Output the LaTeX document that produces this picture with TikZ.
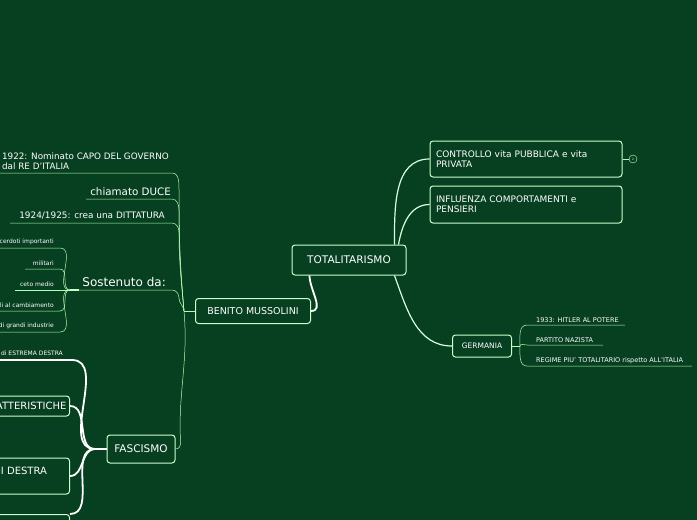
\documentclass[tikz,border=0pt]{standalone}
\usepackage{fontspec}
\setmainfont{DejaVu Sans}
\begin{document}
\begin{tikzpicture}[x=1pt,y=-1pt,
  box/.style={draw=white!80!green, rounded corners=3pt, line width=1pt, text=white, font=\fontsize{9}{10}\selectfont, inner sep=3pt},
  lab/.style={text=white, font=\fontsize{6.5}{8}\selectfont, inner sep=1pt},
  thin/.style={draw=white!70!green, line width=0.5pt},
  thick/.style={draw=white, line width=1.8pt},
  mid/.style={draw=white!85!green, line width=1.2pt}]
\definecolor{bg}{HTML}{073F21}
\fill[bg] (0,0) rectangle (697,520);
\useasboundingbox (0,0) rectangle (697,520);
\clip (0,0) rectangle (697,520);
% main nodes
\node[box, minimum width=114pt, minimum height=30pt, font=\fontsize{10.5}{11}\selectfont] (tot) at (349,260) {TOTALITARISMO};
\node[box, minimum width=115pt, minimum height=25pt, font=\fontsize{9.5}{10}\selectfont] (mus) at (253,311) {BENITO MUSSOLINI};
\node[box, minimum width=68pt, minimum height=28pt, font=\fontsize{10.5}{11}\selectfont] (fas) at (141,449) {FASCISMO};
\node[box, minimum width=192pt, minimum height=36pt, align=left, text width=180pt] (con) at (526,159) {CONTROLLO vita PUBBLICA e vita\\PRIVATA};
\node[box, minimum width=192pt, minimum height=37pt, align=left, text width=180pt] (inf) at (526,204.5) {INFLUENZA COMPORTAMENTI e\\PENSIERI};
\node[box, minimum width=59pt, minimum height=22pt, font=\fontsize{7.5}{8}\selectfont] (ger) at (482,346) {GERMANIA};
\node[draw=white!80!green, circle, inner sep=0pt, minimum size=8pt, text=white, font=\fontsize{3}{3}\selectfont] (cnt) at (633,159) {2};
\draw[thin] (con.east) -- (cnt.west);
% totalitarismo connectors
\draw[thick] (tot.south west) ++(18,0) to[out=-90,in=0] (mus.east);
\draw[mid] (tot.north east) ++(-12,0) to[out=90,in=180] (con.west);
\draw[mid] (tot.north east) ++(-8,0) to[out=80,in=180] (inf.west);
\draw[mid] (tot.south east) ++(-12,0) to[out=-70,in=180] (ger.west);
% germania children
\coordinate (gj) at (520,346);
\draw[thin] (ger.east) -- (gj);
\node[lab, anchor=south west] (g1) at (535,324) {1933: HITLER AL POTERE};
\node[lab, anchor=south west] (g2) at (535,344) {PARTITO NAZISTA};
\node[lab, anchor=south west] (g3) at (535,365) {REGIME PIU' TOTALITARIO rispetto ALL'ITALIA};
\draw[thin] (gj) to[out=90,in=180] (527,325) -- (625,325);
\draw[thin] (gj) to[out=90,in=180] (527,345) -- (603,345);
\draw[thin] (gj) to[out=-90,in=180] (527,366) -- (692,366);
% mussolini children
\coordinate (mj) at (184,311);
\draw[thin] (mus.west) -- (mj);
\node[lab, anchor=south east, align=left, font=\fontsize{8.8}{10}\selectfont] (m1) at (170,171) {1922: Nominato CAPO DEL GOVERNO\\dal RE D'ITALIA};
\node[lab, anchor=south east, font=\fontsize{10.3}{11}\selectfont] (m2) at (172,197) {chiamato DUCE};
\node[lab, anchor=south east, font=\fontsize{8.9}{10}\selectfont] (m3) at (166,221) {1924/1925: crea una DITTATURA};
\node[lab, anchor=south east, font=\fontsize{12}{13}\selectfont] (m4) at (167,288) {Sostenuto da:};
\draw[thin] (mj) to[out=95,in=-90] (179,190) to[out=90,in=0] (172,173) -- (0,173);
\draw[thin] (mj) to[out=95,in=-90] (179,210) to[out=90,in=0] (172,199) -- (86,199);
\draw[thin] (mj) to[out=95,in=-90] (179,232) to[out=90,in=0] (172,223) -- (10,223);
\draw[thin] (mj) to[out=95,in=-90] (179,298) to[out=90,in=0] (172,290) -- (75,290);
\draw[thin] (mj) to[out=-85,in=90] (180,430) to[out=-90,in=0] (fas.east);
% sostenuto children
\coordinate (sj) at (70,290);
\draw[line width=1.2pt, white!80!green] (sj) -- (79,290);
\node[lab, anchor=south east, font=\fontsize{6}{7}\selectfont] (s1) at (55,246) {sacerdoti importanti};
\node[lab, anchor=south east, font=\fontsize{6}{7}\selectfont] (s2) at (55,267) {militari};
\node[lab, anchor=south east, font=\fontsize{6}{7}\selectfont] (s3) at (55,288) {ceto medio};
\node[lab, anchor=south east, font=\fontsize{6}{7}\selectfont] (s4) at (55,309) {favorevoli al cambiamento};
\node[lab, anchor=south east, font=\fontsize{6}{7}\selectfont] (s5) at (55,330) {proprietari di grandi industrie};
\draw[thin] (sj) to[out=180,in=0] (60,248) -- (0,248);
\draw[thin] (sj) to[out=180,in=0] (60,269) -- (25,269);
\draw[thin] (sj) -- (15,290);
\draw[thin] (sj) to[out=180,in=0] (60,311) -- (0,311);
\draw[thin] (sj) to[out=180,in=0] (60,332) -- (0,332);
% fascismo children
\coordinate (fj) at (95,449);
\draw[thick] (fas.west) -- (fj);
\node[lab, anchor=south east, font=\fontsize{6}{7}\selectfont] (f1) at (64,358) {partito di ESTREMA DESTRA};
\draw[thick] (fj) to[out=180,in=0] (72,360) -- (0,360);
\node[box, anchor=east, minimum height=20pt, font=\fontsize{10}{11}\selectfont] (f2) at (70,406) {CARATTERISTICHE};
\draw[thick] (fj) to[out=180,in=0] (f2.east);
\node[box, anchor=east, minimum height=36pt, align=left, text width=100pt, font=\fontsize{10}{11}\selectfont] (f3) at (70,476) {IDEE DI DESTRA\\\mbox{}};
\draw[thick] (fj) to[out=180,in=0] (f3.east);
\node[box, anchor=north east, minimum width=100pt, minimum height=30pt] (f4) at (70,514) {};
\draw[thick] (fj) to[out=180,in=0] (f4.north east);
\end{tikzpicture}
\end{document}
